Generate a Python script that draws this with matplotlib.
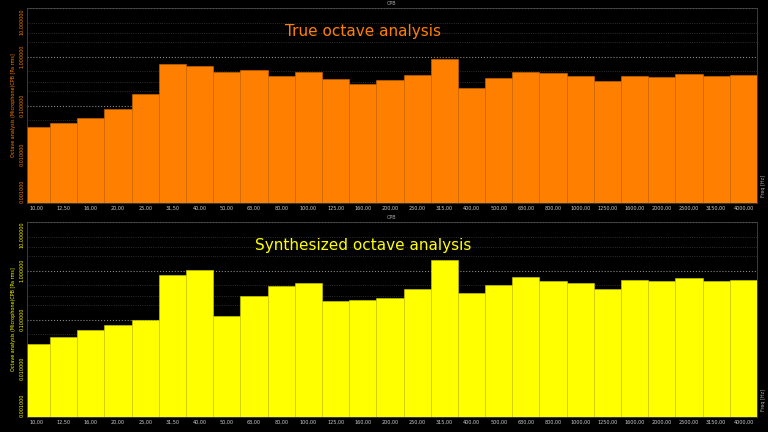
import numpy as np
import matplotlib.pyplot as plt

freqs = ['10,00', '12,50', '16,00', '20,00', '25,00', '31,50', '40,00', '50,00', '63,00',
         '80,00', '100,00', '125,00', '160,00', '200,00', '250,00', '315,00', '400,00',
         '500,00', '630,00', '800,00', '1000,00', '1250,00', '1600,00', '2000,00',
         '2500,00', '3150,00', '4000,00']
true_vals = [0.036, 0.044, 0.055, 0.085, 0.17, 0.71, 0.65, 0.49, 0.53, 0.40, 0.49, 0.35,
             0.28, 0.33, 0.42, 0.90, 0.23, 0.37, 0.49, 0.47, 0.40, 0.32, 0.40, 0.38,
             0.44, 0.40, 0.42]
synth_vals = [0.031, 0.044, 0.061, 0.077, 0.098, 0.82, 1.04, 0.12, 0.30, 0.49, 0.56, 0.24,
              0.25, 0.28, 0.42, 1.66, 0.35, 0.51, 0.74, 0.62, 0.56, 0.42, 0.65, 0.62,
              0.71, 0.62, 0.65]
yticks = [0.001, 0.01, 0.1, 1, 10]
ytick_labels = ['0,001000', '0,010000', '0,100000', '1,000000', '10,000000']

fig = plt.figure(figsize=(7.68, 4.32), dpi=100, facecolor='black')
W, H = 768, 432
panels = [
    (8, 203, true_vals, '#ff8000', '#d06a00', 'True octave analysis', '#ff8000'),
    (222, 417, synth_vals, '#ffff00', '#d0d000', 'Synthesized octave analysis', '#ffff00'),
]
x = np.arange(len(freqs))
for top, bot, vals, col, edge, title, tcol in panels:
    ax = fig.add_axes([27 / W, 1 - bot / H, (757 - 27) / W, (bot - top) / H])
    ax.set_facecolor('black')
    ax.bar(x, vals, width=1.0, color=col, edgecolor=edge, linewidth=0.4, zorder=2)
    ax.set_yscale('log')
    ax.set_ylim(0.001, 10)
    ax.set_xlim(-0.35, len(freqs) - 0.5)
    ax.set_yticks(yticks)
    ax.set_yticklabels(ytick_labels, rotation=90, va='center', fontsize=3.5, color=col)
    labs = ax.get_yticklabels()
    labs[0].set_va('bottom')
    labs[-1].set_va('top')
    ax.set_xticks(x)
    ax.set_xticklabels(freqs, fontsize=3.5, color='#cccccc')
    ax.tick_params(length=0, pad=2)
    ax.minorticks_off()
    ax.grid(True, which='major', axis='y', color='#888888', linestyle=':', linewidth=0.8, zorder=1)
    for m in [2, 3, 5]:
        for d in yticks[:-1]:
            ax.axhline(m * d, color='#3a3a3a', linestyle=':', linewidth=0.6, zorder=1)
    for s in ax.spines.values():
        s.set_color('#444444')
        s.set_linewidth(0.6)
    ax.set_ylabel('Octave analysis (Microphone)CPB [Pa rms]', fontsize=3.5, color=col, labelpad=2)
    ax.text(0.5, 1.01, 'CPB', transform=ax.transAxes, ha='center', va='bottom',
            fontsize=3.5, color='#aaaaaa')
    ax.text(1.005, 0.03, 'Freq [Hz]', transform=ax.transAxes, rotation=90, ha='left',
            va='bottom', fontsize=3.5, color='#aaaaaa')
    ax.text(0.46, 0.88, title, transform=ax.transAxes, ha='center', va='center',
            fontsize=11, color=tcol)

fig.savefig('out.png', dpi=100, facecolor='black')
